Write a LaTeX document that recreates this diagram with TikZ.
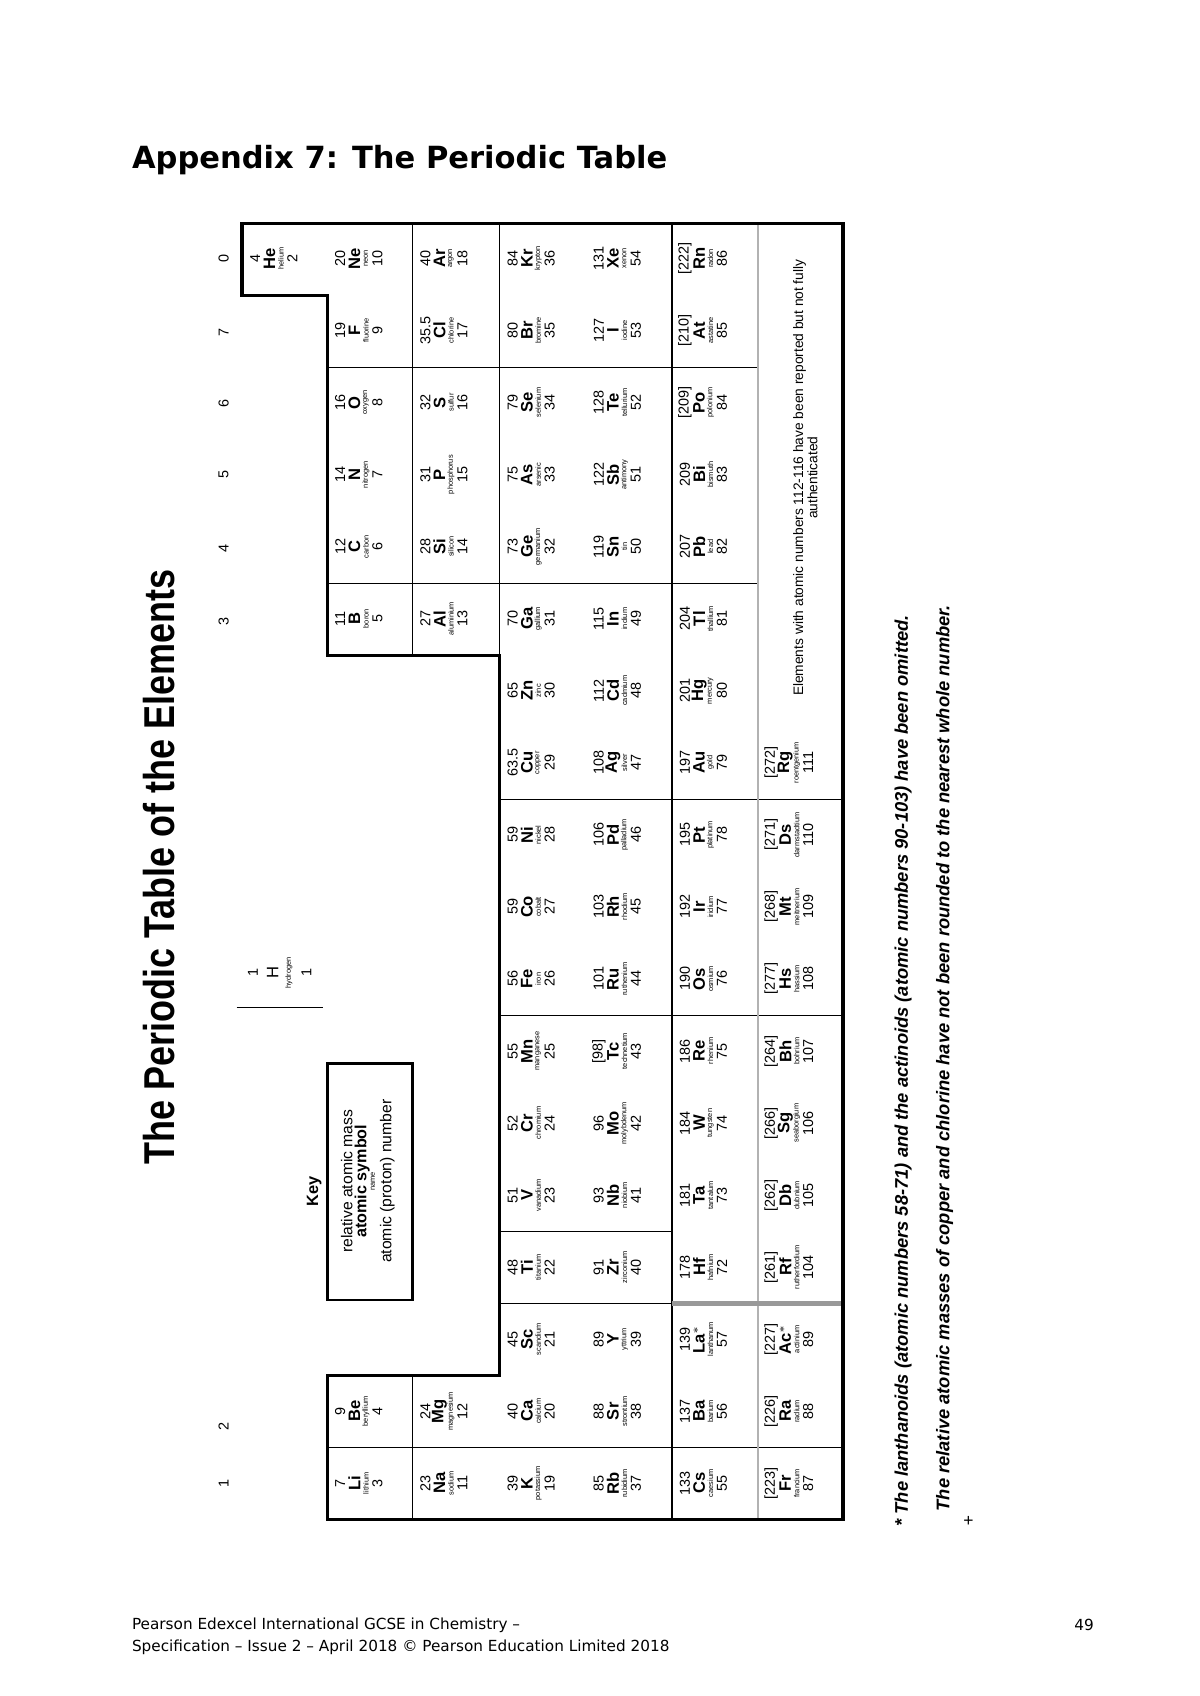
\documentclass[tikz,border=0pt]{standalone}
\usepackage{fontspec}
\setmainfont{Liberation Sans}
\newfontfamily\verd{DejaVu Sans}
\tikzset{
  rt/.style={rotate=90,inner sep=0pt,anchor=center},
  massst/.style={rt,font=\fontsize{6.6}{6.6}\selectfont},
  symst/.style={rt,font=\fontsize{7.6}{7.6}\selectfont\bfseries},
  namest/.style={rt,font=\fontsize{3.4}{3.4}\selectfont},
  frame/.style={line width=1.5pt,line join=miter},
  thin/.style={line width=0.6pt},
  grayl/.style={line width=0.6pt,draw=black!30},
}
\newcommand\Cell[6]{%
  \pgfmathsetmacro\cx{{222,300,378,458,537,616,695}[#1-1]}%
  \pgfmathsetmacro\cy{1360-66.06*#2}%
  \node[massst] (m#6) at (\cx+12,\cy) {#3};
  \node[symst] (s#6) at (\cx+25,\cy) {#4};
  \node[namest] (n#6) at (\cx+35.5,\cy) {#5};
  \node[massst] (z#6) at (\cx+46,\cy) {#6};
}
\begin{document}
\begin{tikzpicture}[x=0.5pt,y=-0.5pt]
\useasboundingbox[fill=white] (0,0) rectangle (1100,1555);
\node[anchor=west,font=\verd\fontsize{14}{14}\selectfont\bfseries] (hdr) at (114,147) {Appendix 7: The Periodic Table};
\node[rt,font=\fontsize{16.5}{16.5}\selectfont\bfseries] (ttl) at (146,795) {\scalebox{1}[1.2]{The Periodic Table of the Elements}};
% group labels
\foreach \g/\yy [count=\k] in {1/1360,2/1308,3/570,4/503,5/435,6/370,7/305,0/237}
  \node[massst] (g\k) at (205,\yy) {\g};
% lines
\draw[thin] (378,205)--(378,601) (378,1261)--(378,1393)
  (458,205)--(458,601) (616,205)--(616,1393)
  (300,1327)--(773,1327) (458,1195)--(616,1195) (458,1129)--(616,1129)
  (458,931)--(773,931) (458,733)--(773,733)
  (300,535)--(695,535) (300,337)--(695,337);
\draw[grayl] (695,205)--(695,1393);
\draw[line width=2pt,draw=black!40] (616,1195)--(773,1195);
\draw[frame] (300,1393)--(300,1261)--(458,1261)--(458,601)--(300,601)--(300,271)--(222,271)--(222,205)--(773,205)--(773,1393)--cycle;
% key
\draw[line width=1.2pt] (300,975) rectangle (378,1192);
\node[rt,font=\fontsize{7.5}{7.5}\selectfont\bfseries] (key) at (288,1092) {Key};
\node[rt,font=\fontsize{7.2}{7.2}\selectfont] (k1) at (318,1083) {relative atomic mass};
\node[rt,font=\fontsize{7.4}{7.4}\selectfont\bfseries] (k2) at (332,1083) {atomic symbol};
\node[namest] (k3) at (342,1083) {name};
\node[rt,font=\fontsize{7.2}{7.2}\selectfont] (k4) at (355,1083) {atomic (proton) number};
% hydrogen
\draw[thin] (217,924)--(296,924);
\node[massst] (m1) at (232,892) {1};
\node[rt,font=\fontsize{7.6}{7.6}\selectfont] (s1) at (250,892) {H};
\node[namest] (n1) at (265,892) {hydrogen};
\node[massst] (z1) at (281,892) {1};
% cells
\Cell{1}{17}{4}{He}{helium}{2}
\Cell{2}{0}{7}{Li}{lithium}{3}
\Cell{2}{1}{9}{Be}{beryllium}{4}
\Cell{2}{12}{11}{B}{boron}{5}
\Cell{2}{13}{12}{C}{carbon}{6}
\Cell{2}{14}{14}{N}{nitrogen}{7}
\Cell{2}{15}{16}{O}{oxygen}{8}
\Cell{2}{16}{19}{F}{fluorine}{9}
\Cell{2}{17}{20}{Ne}{neon}{10}
\Cell{3}{0}{23}{Na}{sodium}{11}
\Cell{3}{1}{24}{Mg}{magnesium}{12}
\Cell{3}{12}{27}{Al}{aluminium}{13}
\Cell{3}{13}{28}{Si}{silicon}{14}
\Cell{3}{14}{31}{P}{phosphorus}{15}
\Cell{3}{15}{32}{S}{sulfur}{16}
\Cell{3}{16}{35.5}{Cl}{chlorine}{17}
\Cell{3}{17}{40}{Ar}{argon}{18}
\Cell{4}{0}{39}{K}{potassium}{19}
\Cell{4}{1}{40}{Ca}{calcium}{20}
\Cell{4}{2}{45}{Sc}{scandium}{21}
\Cell{4}{3}{48}{Ti}{titanium}{22}
\Cell{4}{4}{51}{V}{vanadium}{23}
\Cell{4}{5}{52}{Cr}{chromium}{24}
\Cell{4}{6}{55}{Mn}{manganese}{25}
\Cell{4}{7}{56}{Fe}{iron}{26}
\Cell{4}{8}{59}{Co}{cobalt}{27}
\Cell{4}{9}{59}{Ni}{nickel}{28}
\Cell{4}{10}{63.5}{Cu}{copper}{29}
\Cell{4}{11}{65}{Zn}{zinc}{30}
\Cell{4}{12}{70}{Ga}{gallium}{31}
\Cell{4}{13}{73}{Ge}{germanium}{32}
\Cell{4}{14}{75}{As}{arsenic}{33}
\Cell{4}{15}{79}{Se}{selenium}{34}
\Cell{4}{16}{80}{Br}{bromine}{35}
\Cell{4}{17}{84}{Kr}{krypton}{36}
\Cell{5}{0}{85}{Rb}{rubidium}{37}
\Cell{5}{1}{88}{Sr}{strontium}{38}
\Cell{5}{2}{89}{Y}{yttrium}{39}
\Cell{5}{3}{91}{Zr}{zirconium}{40}
\Cell{5}{4}{93}{Nb}{niobium}{41}
\Cell{5}{5}{96}{Mo}{molybdenum}{42}
\Cell{5}{6}{[98]}{Tc}{technetium}{43}
\Cell{5}{7}{101}{Ru}{ruthenium}{44}
\Cell{5}{8}{103}{Rh}{rhodium}{45}
\Cell{5}{9}{106}{Pd}{palladium}{46}
\Cell{5}{10}{108}{Ag}{silver}{47}
\Cell{5}{11}{112}{Cd}{cadmium}{48}
\Cell{5}{12}{115}{In}{indium}{49}
\Cell{5}{13}{119}{Sn}{tin}{50}
\Cell{5}{14}{122}{Sb}{antimony}{51}
\Cell{5}{15}{128}{Te}{tellurium}{52}
\Cell{5}{16}{127}{I}{iodine}{53}
\Cell{5}{17}{131}{Xe}{xenon}{54}
\Cell{6}{0}{133}{Cs}{caesium}{55}
\Cell{6}{1}{137}{Ba}{barium}{56}
\Cell{6}{2}{139}{La$^{*}$}{lanthanum}{57}
\Cell{6}{3}{178}{Hf}{hafnium}{72}
\Cell{6}{4}{181}{Ta}{tantalum}{73}
\Cell{6}{5}{184}{W}{tungsten}{74}
\Cell{6}{6}{186}{Re}{rhenium}{75}
\Cell{6}{7}{190}{Os}{osmium}{76}
\Cell{6}{8}{192}{Ir}{iridium}{77}
\Cell{6}{9}{195}{Pt}{platinum}{78}
\Cell{6}{10}{197}{Au}{gold}{79}
\Cell{6}{11}{201}{Hg}{mercury}{80}
\Cell{6}{12}{204}{Tl}{thallium}{81}
\Cell{6}{13}{207}{Pb}{lead}{82}
\Cell{6}{14}{209}{Bi}{bismuth}{83}
\Cell{6}{15}{[209]}{Po}{polonium}{84}
\Cell{6}{16}{[210]}{At}{astatine}{85}
\Cell{6}{17}{[222]}{Rn}{radon}{86}
\Cell{7}{0}{[223]}{Fr}{francium}{87}
\Cell{7}{1}{[226]}{Ra}{radium}{88}
\Cell{7}{2}{[227]}{Ac$^{*}$}{actinium}{89}
\Cell{7}{3}{[261]}{Rf}{rutherfordium}{104}
\Cell{7}{4}{[262]}{Db}{dubnium}{105}
\Cell{7}{5}{[266]}{Sg}{seaborgium}{106}
\Cell{7}{6}{[264]}{Bh}{bohrium}{107}
\Cell{7}{7}{[277]}{Hs}{hassium}{108}
\Cell{7}{8}{[268]}{Mt}{meitnerium}{109}
\Cell{7}{9}{[271]}{Ds}{darmstadtium}{110}
\Cell{7}{10}{[272]}{Rg}{roentgenium}{111}
% note
\node[rt,font=\fontsize{6.3}{6.3}\selectfont] (nt1) at (733,438) {Elements with atomic numbers 112-116 have been reported but not fully};
\node[rt,font=\fontsize{6.3}{6.3}\selectfont] (nt2) at (745,438) {authenticated};
% footnotes
\node[rotate=90,anchor=west,inner sep=0pt,font=\fontsize{8.4}{8.4}\selectfont\bfseries\itshape] (fn1) at (828,1400) {* The lanthanoids (atomic numbers 58-71) and the actinoids (atomic numbers 90-103) have been omitted.};
\node[rotate=90,anchor=west,inner sep=0pt,font=\fontsize{8.4}{8.4}\selectfont\bfseries\itshape] (fn2) at (866,1386) {The relative atomic masses of copper and chlorine have not been rounded to the nearest whole number.};
\node[font=\fontsize{8}{8}\selectfont] (plus) at (888,1395) {+};
% footer
\node[anchor=west,font=\verd\fontsize{7}{7}\selectfont] (f1) at (114,1490) {Pearson Edexcel International GCSE in Chemistry –};
\node[anchor=west,font=\verd\fontsize{7}{7}\selectfont] (f2) at (114,1510) {Specification – Issue 2 – April 2018 © Pearson Education Limited 2018};
\node[anchor=west,font=\verd\fontsize{7}{7}\selectfont] (f3) at (978,1490) {49};
\end{tikzpicture}
\end{document}
